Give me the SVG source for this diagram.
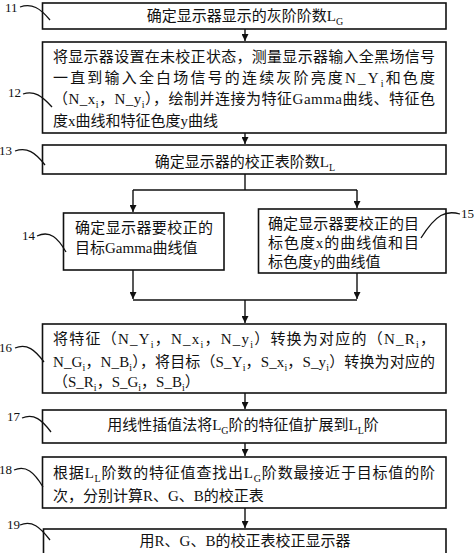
<svg xmlns="http://www.w3.org/2000/svg" width="474" height="553" viewBox="0 0 474 553">
<style>
.box{fill:#fff;stroke:#111;stroke-width:1.6}
.t{font-family:"Liberation Serif","Noto Sans CJK SC",serif;font-size:15px;fill:#111}
.lbl{font-family:"Liberation Serif",serif;font-size:13px;fill:#111}
.lead{fill:none;stroke:#111;stroke-width:1.3}
.c{fill:none;stroke:#111;stroke-width:1.4}
.s{font-size:10px}
</style>
<defs>
<marker id="ah" viewBox="0 0 10 10" refX="10" refY="5" markerWidth="7" markerHeight="7" markerUnits="userSpaceOnUse" orient="auto">
<path d="M0,0 L10,5 L0,10 z" fill="#111"/>
</marker>
</defs>
<rect width="474" height="553" fill="#fff"/>
<g id="connectors">
<line class="c" x1="245" y1="29" x2="245" y2="41" marker-end="url(#ah)"/>
<line class="c" x1="245" y1="133" x2="245" y2="144" marker-end="url(#ah)"/>
<polyline class="c" points="245,174 245,190"/>
<polyline class="c" points="133,190 357,190"/>
<line class="c" x1="133" y1="190" x2="133" y2="212" marker-end="url(#ah)"/>
<line class="c" x1="357" y1="190" x2="357" y2="208" marker-end="url(#ah)"/>
<line class="c" x1="133" y1="270" x2="133" y2="299" marker-end="url(#ah)"/>
<line class="c" x1="357" y1="273" x2="357" y2="299" marker-end="url(#ah)"/>
<polyline class="c" points="133,300 357,300"/>
<line class="c" x1="245" y1="300" x2="245" y2="323" marker-end="url(#ah)"/>
<line class="c" x1="245" y1="393" x2="245" y2="409" marker-end="url(#ah)"/>
<line class="c" x1="245" y1="443" x2="245" y2="456" marker-end="url(#ah)"/>
<line class="c" x1="245" y1="508" x2="245" y2="528" marker-end="url(#ah)"/>
</g>
<g id="n11">
<rect class="box" x="42.5" y="3" width="403.5" height="26"/>
<text class="t" x="245" y="21" text-anchor="middle">确定显示器显示的灰阶阶数L<tspan class="s" dy="4">G</tspan></text>
<text class="lbl" x="5" y="12">11</text>
<path class="lead" d="M20,7 C32,3 40,8 50,20"/>
</g>
<g id="n12">
<rect class="box" x="42.5" y="42" width="403.5" height="91"/>
<text class="t" x="53" y="62" textLength="382" lengthAdjust="spacing">将显示器设置在未校正状态，测量显示器输入全黑场信号</text>
<text class="t" x="53" y="83" textLength="382" lengthAdjust="spacing">一直到输入全白场信号的连续灰阶亮度N_Y<tspan class="s" dy="4">i</tspan><tspan dy="-4">和色度</tspan></text>
<text class="t" x="53" y="104" textLength="382" lengthAdjust="spacing">（N_x<tspan class="s" dy="4">i</tspan><tspan dy="-4">，N_y</tspan><tspan class="s" dy="4">i</tspan><tspan dy="-4">），绘制并连接为特征Gamma曲线、特征色</tspan></text>
<text class="t" x="53" y="126">度x曲线和特征色度y曲线</text>
<text class="lbl" x="8" y="97">12</text>
<path class="lead" d="M23,94 C34,90 42,96 52,107"/>
</g>
<g id="n13">
<rect class="box" x="42.5" y="145" width="403.5" height="29"/>
<text class="t" x="245" y="167" text-anchor="middle">确定显示器的校正表阶数L<tspan class="s" dy="4">L</tspan></text>
<text class="lbl" x="-1" y="155">13</text>
<path class="lead" d="M15,151 C27,147 35,152 45,165"/>
</g>
<g id="n14">
<rect class="box" x="63.5" y="213" width="160.5" height="57"/>
<text class="t" x="75" y="233" textLength="138" lengthAdjust="spacing">确定显示器要校正的</text>
<text class="t" x="75" y="253">目标Gamma曲线值</text>
<text class="lbl" x="22" y="240">14</text>
<path class="lead" d="M37,236 C50,230 58,238 66,252"/>
</g>
<g id="n15">
<rect class="box" x="258.5" y="209" width="187.5" height="64"/>
<text class="t" x="268" y="229" textLength="151" lengthAdjust="spacing">确定显示器要校正的目</text>
<text class="t" x="268" y="248" textLength="151" lengthAdjust="spacing">标色度x的曲线值和目</text>
<text class="t" x="268" y="267">标色度y的曲线值</text>
<text class="lbl" x="461" y="218">15</text>
<path class="lead" d="M460,214 C446,210 436,214 421,238"/>
</g>
<g id="n16">
<rect class="box" x="42.5" y="324" width="403.5" height="69"/>
<text class="t" x="53" y="344" textLength="382" lengthAdjust="spacing">将特征（N_Y<tspan class="s" dy="4">i</tspan><tspan dy="-4">，N_x</tspan><tspan class="s" dy="4">i</tspan><tspan dy="-4">，N_y</tspan><tspan class="s" dy="4">i</tspan><tspan dy="-4">）转换为对应的（N_R</tspan><tspan class="s" dy="4">i</tspan><tspan dy="-4">，</tspan></text>
<text class="t" x="53" y="367" textLength="382" lengthAdjust="spacing">N_G<tspan class="s" dy="4">i</tspan><tspan dy="-4">，N_B</tspan><tspan class="s" dy="4">i</tspan><tspan dy="-4">），将目标（S_Y</tspan><tspan class="s" dy="4">i</tspan><tspan dy="-4">，S_x</tspan><tspan class="s" dy="4">i</tspan><tspan dy="-4">，S_y</tspan><tspan class="s" dy="4">i</tspan><tspan dy="-4">）转换为对应的</tspan></text>
<text class="t" x="53" y="387">（S_R<tspan class="s" dy="4">i</tspan><tspan dy="-4">，S_G</tspan><tspan class="s" dy="4">i</tspan><tspan dy="-4">，S_B</tspan><tspan class="s" dy="4">i</tspan><tspan dy="-4">）</tspan></text>
<text class="lbl" x="-1" y="352">16</text>
<path class="lead" d="M15,348 C27,343 35,350 44,362"/>
</g>
<g id="n17">
<rect class="box" x="42.5" y="410" width="403.5" height="33"/>
<text class="t" x="243" y="430" text-anchor="middle">用线性插值法将L<tspan class="s" dy="4">G</tspan><tspan dy="-4">阶的特征值扩展到L</tspan><tspan class="s" dy="4">L</tspan><tspan dy="-4">阶</tspan></text>
<text class="lbl" x="7" y="421">17</text>
<path class="lead" d="M22,418 C34,413 42,420 51,432"/>
</g>
<g id="n18">
<rect class="box" x="42.5" y="457" width="403.5" height="51"/>
<text class="t" x="53" y="478" textLength="382" lengthAdjust="spacing">根据L<tspan class="s" dy="4">L</tspan><tspan dy="-4">阶数的特征值查找出L</tspan><tspan class="s" dy="4">G</tspan><tspan dy="-4">阶数最接近于目标值的阶</tspan></text>
<text class="t" x="53" y="501">次，分别计算R、G、B的校正表</text>
<text class="lbl" x="-1" y="474">18</text>
<path class="lead" d="M14,470 C26,465 34,472 43,487"/>
</g>
<g id="n19">
<rect class="box" x="43.5" y="529" width="402.5" height="30"/>
<text class="t" x="245" y="546" text-anchor="middle">用R、G、B的校正表校正显示器</text>
<text class="lbl" x="7" y="529">19</text>
<path class="lead" d="M20,525 C32,520 40,527 50,540"/>
</g>
</svg>
